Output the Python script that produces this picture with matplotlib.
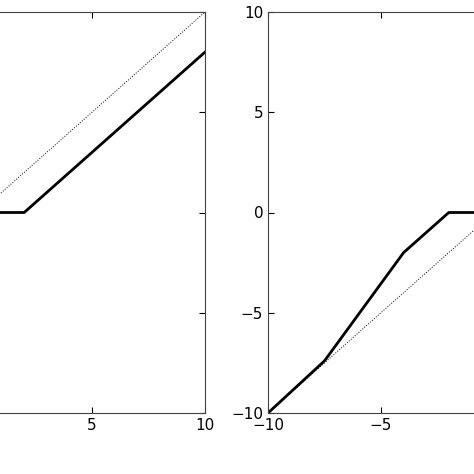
import matplotlib
matplotlib.use("Agg")
import matplotlib.pyplot as plt

ref_x = [-10, 10]
ref_y = [-10, 10]
left_x = [-10, 2, 10]
left_y = [0, 0, 8]
right_x = [-10, -7.5, -4, -2, 10]
right_y = [-10, -7.4, -2, 0, 0]
ticks = [-10, -5, 0, 5, 10]

fig = plt.figure(figsize=(4.74, 4.74), dpi=100)
W = 474
axL = fig.add_axes([-247 / W, 1 - 413 / W, 452 / W, 401 / W])
axR = fig.add_axes([268 / W, 1 - 413 / W, 452 / W, 401 / W])
for ax, xs, ys in [(axL, left_x, left_y), (axR, right_x, right_y)]:
    ax.plot(ref_x, ref_y, color="black", lw=0.7, ls=":")
    ax.plot(xs, ys, color="black", lw=2)
    ax.set_xlim(-10, 10)
    ax.set_ylim(-10, 10)
    ax.set_xticks(ticks)
    ax.set_yticks(ticks)
    ax.tick_params(direction="in", top=True, right=True, labelsize=11, length=4)
    for s in ax.spines.values():
        s.set_linewidth(0.8)
        s.set_color("#444444")
fig.savefig("out.png", dpi=100)
